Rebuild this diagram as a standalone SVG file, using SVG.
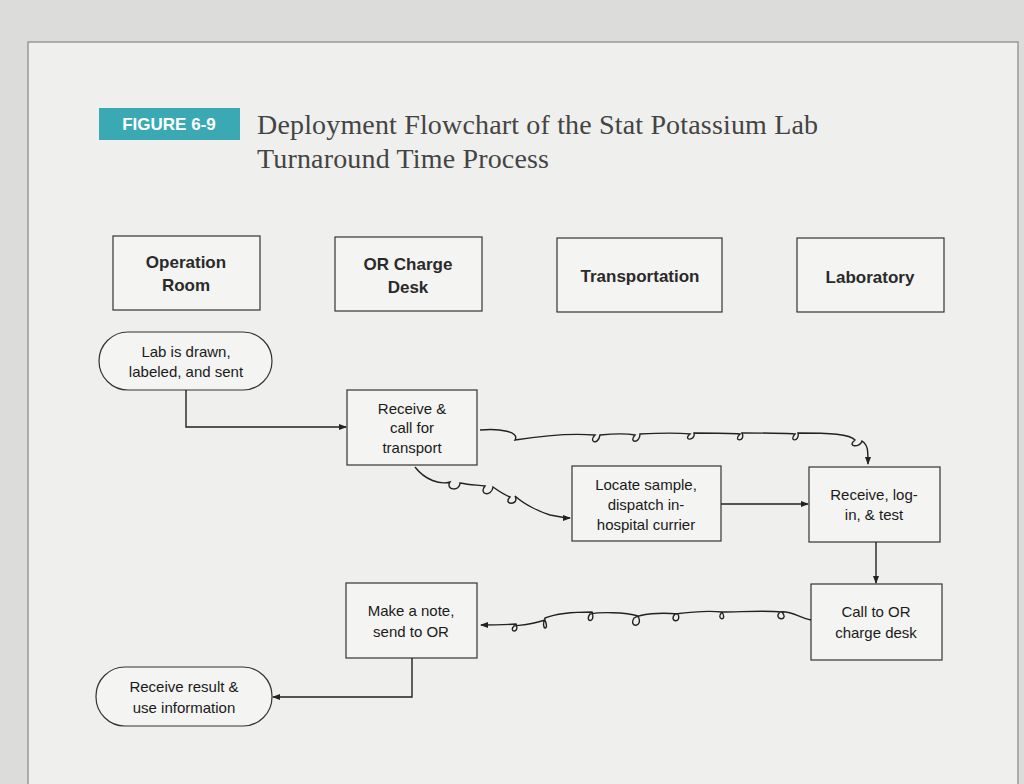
<svg xmlns="http://www.w3.org/2000/svg" width="1024" height="784" viewBox="0 0 1024 784">
<defs>
<marker id="ah" markerWidth="8" markerHeight="8" refX="7" refY="4" orient="auto" markerUnits="userSpaceOnUse"><path d="M0,1 L8,4 L0,7 Z" fill="#222"/></marker>
<style>
.box{fill:#f4f4f2;stroke:#333;stroke-width:1.2}
.t{font-family:"Liberation Sans",Arial,sans-serif;font-size:15px;fill:#1a1a1a;text-anchor:middle}
.h{font-family:"Liberation Sans",Arial,sans-serif;font-size:17px;font-weight:bold;fill:#2a2a2a;text-anchor:middle}
.c{fill:none;stroke:#222;stroke-width:1.4}
</style>
</defs>
<rect width="1024" height="784" fill="#dcdcda"/>
<rect x="28" y="42" width="990" height="760" fill="#efefed" stroke="#999" stroke-width="1.5"/>
<g id="figlabel"><rect x="99" y="108" width="141" height="32" fill="#3aa9b4"/><text x="169" y="130" font-family="Liberation Sans,Arial,sans-serif" font-size="17" font-weight="bold" fill="#fff" text-anchor="middle">FIGURE 6-9</text></g>
<g id="title" font-family="Liberation Serif,serif" font-size="28" fill="#444"><text x="257" y="134" textLength="561">Deployment Flowchart of the Stat Potassium Lab</text><text x="257" y="168" textLength="292">Turnaround Time Process</text></g>
<g id="h1"><rect class="box" x="113" y="236" width="147" height="74"/><text class="h" x="186" y="268">Operation</text><text class="h" x="186" y="291">Room</text></g>
<g id="h2"><rect class="box" x="335" y="237" width="147" height="74"/><text class="h" x="408" y="270">OR Charge</text><text class="h" x="408" y="293">Desk</text></g>
<g id="h3"><rect class="box" x="557" y="238" width="165" height="74"/><text class="h" x="640" y="282">Transportation</text></g>
<g id="h4"><rect class="box" x="797" y="238" width="147" height="74"/><text class="h" x="870" y="283">Laboratory</text></g>
<g id="n1"><rect class="box" x="99" y="332" width="173" height="58" rx="29"/><text class="t" x="186" y="357">Lab is drawn,</text><text class="t" x="186" y="377">labeled, and sent</text></g>
<g id="n2"><rect class="box" x="347" y="390" width="130" height="75"/><text class="t" x="412" y="414">Receive &amp;</text><text class="t" x="412" y="433">call for</text><text class="t" x="412" y="453">transport</text></g>
<g id="n3"><rect class="box" x="572" y="466" width="149" height="75"/><text class="t" x="646" y="490">Locate sample,</text><text class="t" x="646" y="510">dispatch in-</text><text class="t" x="646" y="530">hospital currier</text></g>
<g id="n4"><rect class="box" x="809" y="467" width="131" height="75"/><text class="t" x="874" y="500">Receive, log-</text><text class="t" x="874" y="520">in, &amp; test</text></g>
<g id="n5"><rect class="box" x="811" y="584" width="131" height="76"/><text class="t" x="876" y="617">Call to OR</text><text class="t" x="876" y="638">charge desk</text></g>
<g id="n6"><rect class="box" x="346" y="583" width="131" height="75"/><text class="t" x="411" y="616">Make a note,</text><text class="t" x="411" y="637">send to OR</text></g>
<g id="n7"><rect class="box" x="96" y="667" width="176" height="59" rx="29"/><text class="t" x="184" y="692">Receive result &amp;</text><text class="t" x="184" y="713">use information</text></g>
<g id="connectors">
<path class="c" d="M186,390 V427 H346" marker-end="url(#ah)"/>
<path class="c" d="M480,430 C500,428 520,432 515,440 C540,436 570,433 595,435 C588,442 598,446 600,435 C620,433 630,434 635,435 C628,443 640,444 640,434 C660,433 680,433 690,434 C682,441 696,441 694,433 C715,433 730,433 740,434 C732,442 746,442 742,433 C760,433 785,433 795,434 C788,442 800,442 798,433 C830,433 850,434 855,440 C846,447 860,448 862,441 C868,445 868,450 868,464" marker-end="url(#ah)"/>
<path class="c" d="M415,467 C425,480 440,485 450,482 C445,490 460,492 460,483 C470,485 478,485 485,486 C478,495 492,497 493,487 C500,492 505,495 510,497 C502,505 520,506 515,496 C525,505 540,512 550,515 C560,517 565,518 570,518" marker-end="url(#ah)"/>
<path class="c" d="M721,504 H808" marker-end="url(#ah)"/>
<path class="c" d="M876,542 V583" marker-end="url(#ah)"/>
<path class="c" d="M811,620 C800,618 790,610 780,612 C772,620 790,622 782,612 C765,610 740,612 722,612 C715,620 728,622 722,612 C705,610 690,612 675,614 C668,622 682,624 678,614 C660,612 640,614 634,618 C628,628 644,628 638,616 C625,612 600,612 590,614 C584,622 596,624 592,612 C575,612 555,614 545,618 C540,630 550,632 545,620 C530,625 520,625 514,626 C508,632 520,634 516,624 C500,625 490,625 481,625" marker-end="url(#ah)"/>
<path class="c" d="M412,658 V697 H273" marker-end="url(#ah)"/>
</g>
</svg>
